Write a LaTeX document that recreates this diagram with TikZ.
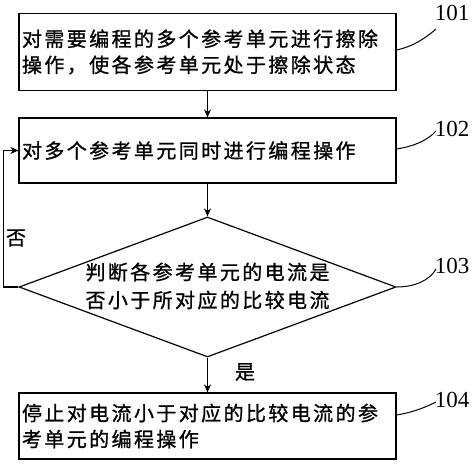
\documentclass[tikz,border=0pt]{standalone}
\usepackage{fontspec}
\usetikzlibrary{shapes.geometric,arrows.meta}
\newfontfamily\cjk{Noto Sans CJK SC}[LetterSpace=12,FakeBold=1]
\setmainfont{Liberation Serif}
\begin{document}
\begin{tikzpicture}[x=1pt,y=-1pt,
  box/.style={draw, line width=1.2pt, minimum width=377pt, inner sep=3pt, text width=371pt, align=left, font=\cjk\fontsize{20}{26}\selectfont},
  dia/.style={draw, diamond, line width=1.2pt, minimum width=377pt, minimum height=140pt, inner sep=0pt},
  txt/.style={font=\cjk\fontsize{20}{28}\selectfont, align=center, inner sep=0pt},
  num/.style={font=\fontsize{23}{23}\selectfont, inner sep=0pt},
  arr/.style={line width=1.2pt, -{Stealth[length=8pt,width=7pt]}},
  lead/.style={line width=1pt}]
\useasboundingbox (0,0) rectangle (474,464);
\node[box, minimum height=77pt] (b1) at (207.5,52) {对需要编程的多个参考单元进行擦除\\操作，使各参考单元处于擦除状态};
\node[box, minimum height=65pt] (b2) at (207.5,150.5) {对多个参考单元同时进行编程操作};
\node[dia] (d) at (207.5,287) {};
\node[txt] (dt) at (207.5,286) {判断各参考单元的电流是\\否小于所对应的比较电流};
\node[box, minimum height=66pt] (b4) at (207.5,426) {停止对电流小于对应的比较电流的参\\考单元的编程操作};
\draw[arr] (b1.south) -- (b2.north);
\draw[arr] (b2.south) -- (d.north);
\draw[arr] (d.south) -- (b4.north);
\draw[arr] (d.west) -- ++(-15,0) |- (b2.west);
\node[txt] (no) at (16,238) {否};
\node[txt] (yes) at (245,372) {是};
\node[num] (n101) at (452,13) {101};
\node[num] (n102) at (452,129) {102};
\node[num] (n103) at (452,266) {103};
\node[num] (n104) at (452,400) {104};
\coordinate (e1) at (436,29);
\coordinate (e2) at (436,131);
\coordinate (e3) at (436,269);
\coordinate (e4) at (436,402);
\draw[lead] (b1.east |- 0,50) .. controls (415,46) and (428,36) .. (e1);
\draw[lead] (b2.east |- 0,149) .. controls (415,146) and (428,140) .. (e2);
\draw[lead] (d.east) .. controls (415,287) and (430,280) .. (e3);
\draw[lead] (b4.east |- 0,415) .. controls (415,412) and (428,406) .. (e4);
\end{tikzpicture}
\end{document}
